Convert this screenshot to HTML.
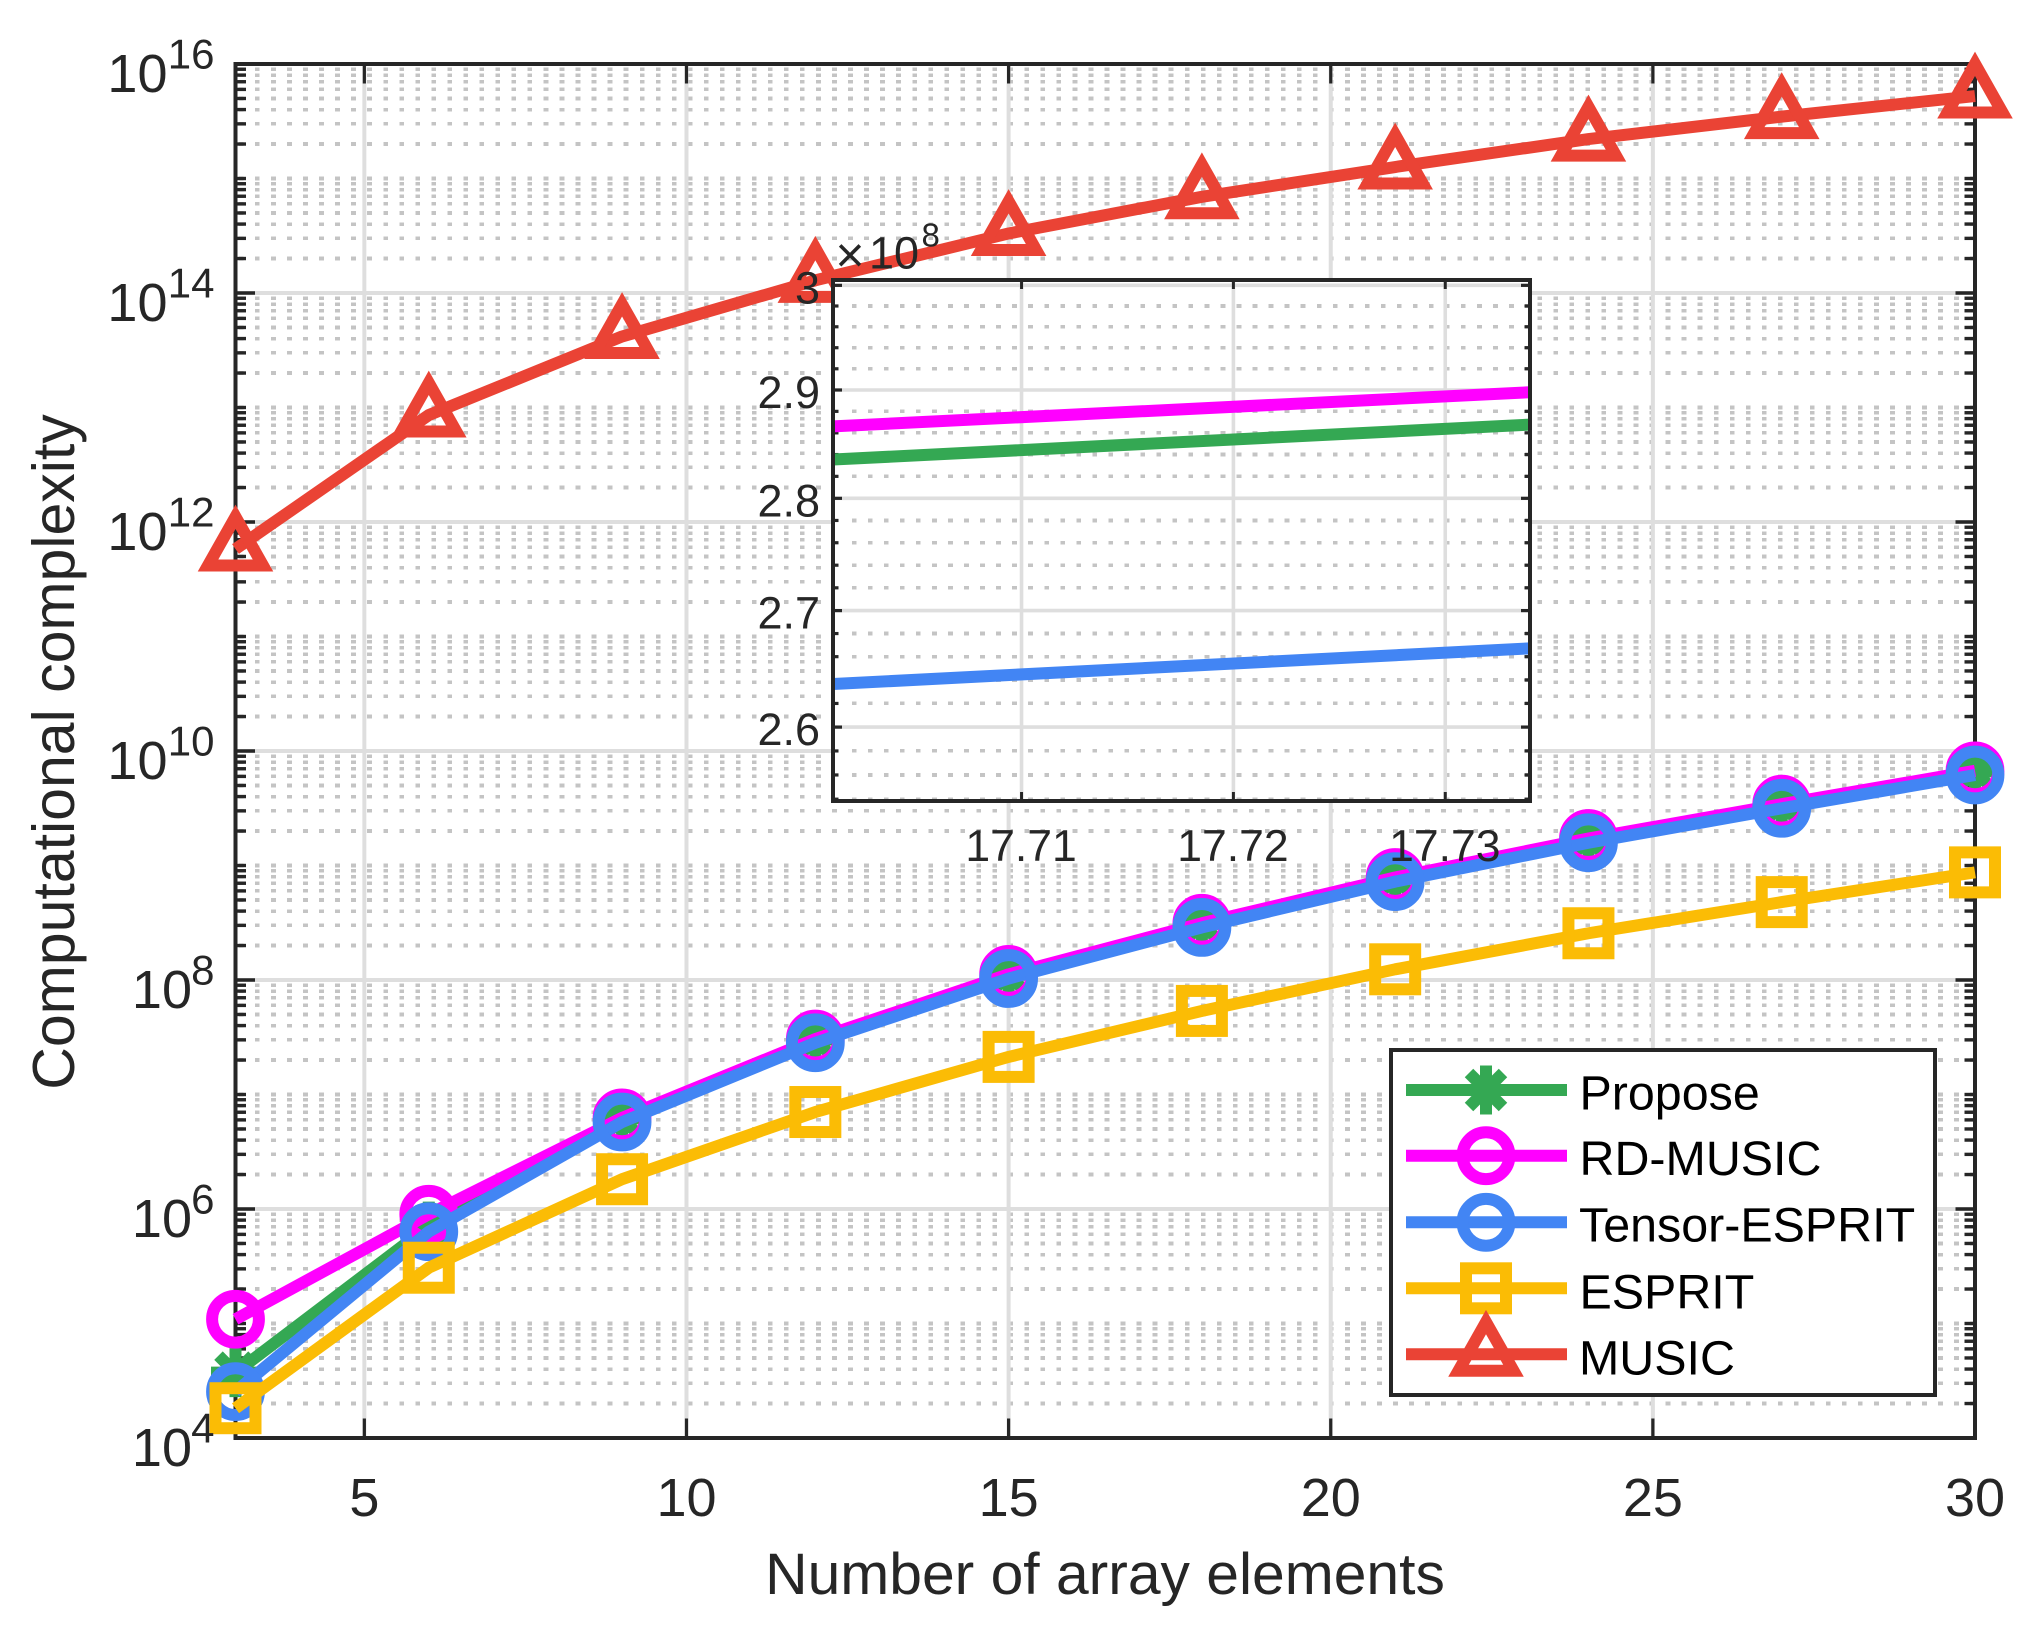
<!DOCTYPE html>
<html lang="en">
<head>
<meta charset="utf-8">
<title>Computational complexity vs number of array elements</title>
<style>
html,body{margin:0;padding:0;background:#fff;}
svg{display:block;font-family:"Liberation Sans",Arial,sans-serif;}
</style>
</head>
<body>
<svg id="chart" xmlns="http://www.w3.org/2000/svg" width="2026" height="1626" viewBox="0 0 2026 1626">
  <rect width="2026" height="1626" fill="#fff"/>
  <defs>
    <clipPath id="inset-clip"><rect x="833" y="280" width="697" height="521"/></clipPath>
  </defs>
  <g id="main-layer"></g>
  <g id="series-layer"></g>
  <g id="main-labels"></g>
  <text x="1105" y="1594" font-size="58.8" fill="#262626" text-anchor="middle">Number of array elements</text>
  <text transform="translate(74,752) rotate(-90)" font-size="59" fill="#262626" text-anchor="middle">Computational complexity</text>
  <g id="inset-layer"></g>
  <g id="legend-layer">
    <rect x="1391" y="1050" width="544" height="345" fill="#fff" stroke="#262626" stroke-width="4"/>
    <g id="legend-keys"></g>
    <g font-size="48.4" fill="#000">
      <text x="1579.5" y="1109.3">Propose</text>
      <text x="1579.5" y="1175">RD-MUSIC</text>
      <text x="1579" y="1241.3">Tensor-ESPRIT</text>
      <text x="1579.5" y="1308.3">ESPRIT</text>
      <text x="1579" y="1374.3">MUSIC</text>
    </g>
  </g>
</svg>
<script>
// ---- main chart data ----
const elements = [3, 6, 9, 12, 15, 18, 21, 24, 27, 30];
const propose = [3.72e4, 7.08e5, 6.18e6, 3.02e7, 1.11e8, 3.09e8, 7.77e8, 1.70e9, 3.40e9, 6.63e9];
const rdMusic = [1.09e5, 9.0e5, 6.25e6, 3.05e7, 1.12e8, 3.13e8, 7.86e8, 1.72e9, 3.43e9, 6.71e9];
const tensorEsprit = [2.54e4, 6.34e5, 5.75e6, 2.83e7, 1.03e8, 2.88e8, 7.23e8, 1.58e9, 3.16e9, 6.17e9];
const esprit = [1.82e4, 3.07e5, 1.82e6, 7.03e6, 2.13e7, 5.37e7, 1.24e8, 2.56e8, 4.79e8, 8.71e8];
const music = [5.81e11, 8.59e12, 4.17e13, 1.29e14, 3.31e14, 6.92e14, 1.26e15, 2.21e15, 3.47e15, 5.25e15];
const xTicks = [5, 10, 15, 20, 25, 30];
const yTickExponents = [4, 6, 8, 10, 12, 14, 16];
const xDomain = [3, 30];
const yExponentDomain = [4, 16];

// ---- inset data (values in units of 1e8) ----
const insetX = [17.7011, 17.7340];
const insetPropose = [2.8354, 2.8677];
const insetRdMusic = [2.866, 2.8979];
const insetTensor = [2.6365, 2.6672];
const insetXTicks = [17.71, 17.72, 17.73];
const insetYTicks = [2.6, 2.7, 2.8, 2.9, 3];
const insetYTickLabels = ['2.6', '2.7', '2.8', '2.9', '3'];
const insetYMinorTicks = [2.54, 2.56, 2.58, 2.62, 2.64, 2.66, 2.68, 2.72, 2.74, 2.76, 2.78, 2.82, 2.84, 2.86, 2.88, 2.92, 2.94, 2.96, 2.98];
const insetXDomain = [17.7011, 17.7340];
const insetYDomain = [2.5385, 3.0052];

// ---- layout ----
const GREEN = '#34A853', MAGENTA = '#FF00FF', BLUE = '#4285F4', YELLOW = '#FBBC05', RED = '#EA4335';
const INK = '#262626', GRID = '#dedede', DOT = '#c4c4c4';
const LINE_W = 12;
const M = {l: 235.5, r: 1975, t: 64, b: 1438};
const I = {l: 833, r: 1530, t: 280, b: 801};
const NS = 'http://www.w3.org/2000/svg';

function xScale(v) { return M.l + (v - xDomain[0]) / (xDomain[1] - xDomain[0]) * (M.r - M.l); }
function yScale(v) { return M.b - (Math.log10(v) - yExponentDomain[0]) / (yExponentDomain[1] - yExponentDomain[0]) * (M.b - M.t); }
function insetXScale(v) { return I.l + (v - insetXDomain[0]) / (insetXDomain[1] - insetXDomain[0]) * (I.r - I.l); }
function insetYScale(v) {
  const a = Math.log10(insetYDomain[0]), b = Math.log10(insetYDomain[1]);
  return I.b - (Math.log10(v) - a) / (b - a) * (I.b - I.t);
}

function mk(parent, tag, attrs, text) {
  const el = document.createElementNS(NS, tag);
  for (const k in attrs) el.setAttribute(k, attrs[k]);
  if (text !== undefined) el.textContent = text;
  parent.appendChild(el);
  return el;
}

function hLine(parent, x1, x2, y, color, w, dash) {
  const a = {x1: x1, x2: x2, y1: y, y2: y, stroke: color, 'stroke-width': w};
  if (dash) {
    a['stroke-dasharray'] = dash;
    a['shape-rendering'] = 'crispEdges';
  }
  return mk(parent, 'line', a);
}
function vLine(parent, x, y1, y2, color, w) {
  return mk(parent, 'line', {x1: x, x2: x, y1: y1, y2: y2, stroke: color, 'stroke-width': w});
}

function drawMarker(parent, kind, cx, cy, color) {
  const g = mk(parent, 'g', {transform: 'translate(' + cx + ',' + cy + ')', fill: 'none', stroke: color, 'stroke-width': LINE_W});
  if (kind === 'star') {
    mk(g, 'path', {d: 'M0-24.5V24.5M-24.5 0H24.5M-17-17L17 17M-17 17L17-17'});
  } else if (kind === 'circle') {
    mk(g, 'circle', {cx: 0, cy: 0, r: 23.4});
  } else if (kind === 'square') {
    mk(g, 'rect', {x: -20, y: -20, width: 40, height: 40});
  } else {
    mk(g, 'polygon', {points: '0,-32.2 27.5,16.5 -27.5,16.5', 'stroke-linejoin': 'miter', 'stroke-miterlimit': 10});
  }
  return g;
}

// ---- main axes: grid ----
const mainLayer = document.getElementById('main-layer');
const minorGrid = mk(mainLayer, 'g', {});


const minorValues = [];
for (let e = yExponentDomain[0]; e < yExponentDomain[1]; e++) {
  const firstMultiplier = (e % 2 === 1) ? 1 : 2;
  for (let m = firstMultiplier; m <= 9; m++) minorValues.push(m * Math.pow(10, e));
}
minorValues.forEach(function (v) {
  hLine(minorGrid, 239, M.r, yScale(v), DOT, 3.6, '4.7 11.33');
});
const majorGrid = mk(mainLayer, 'g', {});


const allDecades = [];
for (let e = yExponentDomain[0]; e <= yExponentDomain[1]; e += 2) allDecades.push(e);
allDecades.forEach(function (e) {
  hLine(majorGrid, M.l, M.r, yScale(Math.pow(10, e)), GRID, 4);
});
xTicks.forEach(function (t) {
  vLine(majorGrid, xScale(t), M.t, M.b, GRID, 4);
});

// ---- main axes: ticks and frame ----
const mainTicks = mk(mainLayer, 'g', {});


minorValues.forEach(function (v) {
  const y = yScale(v);
  hLine(mainTicks, M.l, M.l + 10.5, y, INK, 3.4);
  hLine(mainTicks, M.r - 10.5, M.r, y, INK, 3.4);
});
allDecades.forEach(function (e) {
  const y = yScale(Math.pow(10, e));
  hLine(mainTicks, M.l, M.l + 19.5, y, INK, 3.4);
  hLine(mainTicks, M.r - 19.5, M.r, y, INK, 3.4);
});
xTicks.forEach(function (t) {
  const x = xScale(t);
  vLine(mainTicks, x, M.t, M.t + 19.5, INK, 3.2);
  vLine(mainTicks, x, M.b - 19.5, M.b, INK, 3.2);
});
const mainFrame = mk(mainLayer, 'rect', {x: M.l, y: M.t, width: M.r - M.l, height: M.b - M.t, fill: 'none', stroke: INK, 'stroke-width': 4});



// ---- main tick labels ----
const mainLabels = document.getElementById('main-labels');
xTicks.forEach(function (t) {
  const label = mk(mainLabels, 'text', {x: xScale(t), y: 1516, 'font-size': 54, fill: INK, 'text-anchor': 'middle'}, String(t));
  
  
});
yTickExponents.forEach(function (e) {
  const y = yScale(Math.pow(10, e));
  const twoDigit = String(e).length > 1;
  const base = mk(mainLabels, 'text', {x: twoDigit ? 167.5 : 192, y: y + 28, 'font-size': 54, fill: INK, 'text-anchor': 'end'}, '10');
  
  
  const exp = mk(mainLabels, 'text', {x: 214.5, y: y + 4.5, 'font-size': 42, fill: INK, 'text-anchor': 'end'}, String(e));
  
  
});

// ---- series ----
const seriesLayer = document.getElementById('series-layer');
function drawSeries(values, color, kind, name) {
  const g = mk(seriesLayer, 'g', {});
  
  
  const pts = values.map(function (v, i) { return xScale(elements[i]) + ',' + yScale(v); }).join(' ');
  mk(g, 'polyline', {points: pts, fill: 'none', stroke: color, 'stroke-width': LINE_W, 'stroke-linejoin': 'round'});
  values.forEach(function (v, i) {
    const marker = drawMarker(g, kind, xScale(elements[i]), yScale(v), color);
    
    
  });
}
drawSeries(propose, GREEN, 'star', 'series-propose');
drawSeries(rdMusic, MAGENTA, 'circle', 'series-rd-music');
drawSeries(tensorEsprit, BLUE, 'circle', 'series-tensor-esprit');
drawSeries(esprit, YELLOW, 'square', 'series-esprit');
drawSeries(music, RED, 'triangle', 'series-music');

// ---- inset ----
const insetLayer = document.getElementById('inset-layer');
const insetBg = mk(insetLayer, 'rect', {x: I.l, y: I.t, width: I.r - I.l, height: I.b - I.t, fill: '#fff'});


insetYMinorTicks.forEach(function (v) {
  const y = insetYScale(v);
  const dotLine = hLine(insetLayer, 851.9, I.r, y, DOT, 3.6, '4.7 11.33');
  
  
});
insetYTicks.forEach(function (v) {
  const gridLine = hLine(insetLayer, I.l, I.r, insetYScale(v), GRID, 3.6);
  
  
});
insetXTicks.forEach(function (v) {
  const gridLine = vLine(insetLayer, insetXScale(v), I.t, I.b, GRID, 3.6);
  
  
});
insetYMinorTicks.forEach(function (v) {
  const y = insetYScale(v);
  hLine(insetLayer, I.l, I.l + 5.5, y, INK, 3.2);
  hLine(insetLayer, I.r - 5.5, I.r, y, INK, 3.2);
});
insetYTicks.forEach(function (v) {
  const y = insetYScale(v);
  hLine(insetLayer, I.l, I.l + 9, y, INK, 3.2);
  hLine(insetLayer, I.r - 9, I.r, y, INK, 3.2);
});
insetXTicks.forEach(function (v) {
  const x = insetXScale(v);
  vLine(insetLayer, x, I.t, I.t + 9, INK, 3);
  vLine(insetLayer, x, I.b - 9, I.b, INK, 3);
});
const insetSeries = mk(insetLayer, 'g', {'clip-path': 'url(#inset-clip)'});


function drawInsetLine(values, color, name) {
  const pts = values.map(function (v, i) { return insetXScale(insetX[i]) + ',' + insetYScale(v); }).join(' ');
  const line = mk(insetSeries, 'polyline', {points: pts, fill: 'none', stroke: color, 'stroke-width': LINE_W});
  
  
}
drawInsetLine(insetPropose, GREEN, 'inset-line-propose');
drawInsetLine(insetRdMusic, MAGENTA, 'inset-line-rd-music');
drawInsetLine(insetTensor, BLUE, 'inset-line-tensor-esprit');
const insetFrame = mk(insetLayer, 'rect', {x: I.l, y: I.t, width: I.r - I.l, height: I.b - I.t, fill: 'none', stroke: INK, 'stroke-width': 4});


insetXTicks.forEach(function (v) {
  const label = mk(insetLayer, 'text', {x: insetXScale(v) - 0.5, y: 861, 'font-size': 44.5, fill: INK, 'text-anchor': 'middle'}, v.toFixed(2));
  
  
});
insetYTicks.forEach(function (v, i) {
  const label = mk(insetLayer, 'text', {x: 820, y: insetYScale(v) + 18, 'font-size': 45, fill: INK, 'text-anchor': 'end'}, insetYTickLabels[i]);
  
  
});
const mult = mk(insetLayer, 'text', {x: 850, y: 272, 'font-size': 50, fill: INK, 'text-anchor': 'middle'}, '\u00D7');


const multBase = mk(insetLayer, 'text', {x: 919, y: 268.3, 'font-size': 45, fill: INK, 'text-anchor': 'end'}, '10');


const multExp = mk(insetLayer, 'text', {x: 921.5, y: 246.5, 'font-size': 33, fill: INK}, '8');



// ---- legend keys ----
const legendKeys = document.getElementById('legend-keys');
function drawKey(y, color, kind, name) {
  const g = mk(legendKeys, 'g', {});
  
  
  hLine(g, 1406, 1567, y, color, LINE_W);
  drawMarker(g, kind, 1486, y, color);
}
drawKey(1090, GREEN, 'star', 'legend-key-propose');
drawKey(1155.7, MAGENTA, 'circle', 'legend-key-rd-music');
drawKey(1222.3, BLUE, 'circle', 'legend-key-tensor-esprit');
drawKey(1288.3, YELLOW, 'square', 'legend-key-esprit');
drawKey(1354.3, RED, 'triangle', 'legend-key-music');
</script>
</body>
</html>
